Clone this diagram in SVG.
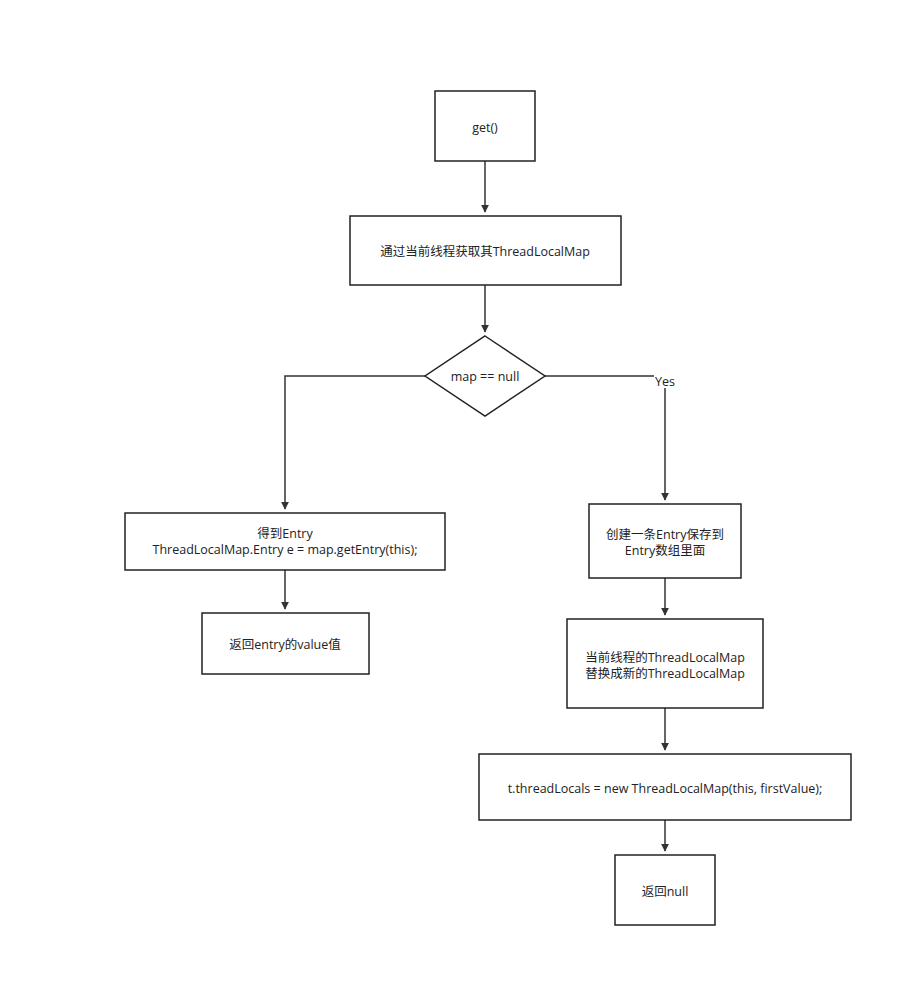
<svg xmlns="http://www.w3.org/2000/svg" width="913" height="987" viewBox="0 0 913 987">
<style>
.n{fill:#fff;stroke:#222;stroke-width:1.5}
.t{font-family:"Open Sans","Noto Sans CJK SC",sans-serif;font-size:12.5px;fill:#222;text-anchor:middle;dominant-baseline:central}
.c{fill:none;stroke:#333;stroke-width:1.5}
</style>
<defs><marker id="a" viewBox="0 0 10 10" refX="9" refY="5" markerWidth="8" markerHeight="8" markerUnits="userSpaceOnUse" orient="auto"><path d="M0,0L10,5L0,10z" fill="#333"/></marker></defs>
<rect width="913" height="987" fill="#fff"/>
<g id="connectors">
<path class="c" d="M485,161V212" marker-end="url(#a)"/>
<path class="c" d="M485,285V332" marker-end="url(#a)"/>
<path class="c" d="M425,376H285V509" marker-end="url(#a)"/>
<path class="c" d="M285,570V609" marker-end="url(#a)"/>
<path class="c" d="M545,376H665V500" marker-end="url(#a)"/>
<rect x="654" y="372" width="22" height="16" fill="#fff"/>
<text class="t" x="665" y="381">Yes</text>
<path class="c" d="M665,578V615" marker-end="url(#a)"/>
<path class="c" d="M665,708V750" marker-end="url(#a)"/>
<path class="c" d="M665,820V851" marker-end="url(#a)"/>
</g>
<g id="get"><rect class="n" x="435" y="91" width="100" height="70"/><text class="t" x="485" y="127">get()</text></g>
<g id="obtain"><rect class="n" x="350" y="216" width="271" height="69"/><text class="t" x="485" y="251">通过当前线程获取其ThreadLocalMap</text></g>
<g id="cond"><path class="n" d="M485,336L545,376L485,416L425,376z"/><text class="t" x="485" y="376">map == null</text></g>
<g id="getEntry"><rect class="n" x="125" y="513" width="320" height="57"/><text class="t" x="285" y="533">得到Entry</text><text class="t" x="285" y="549">ThreadLocalMap.Entry e = map.getEntry(this);</text></g>
<g id="retVal"><rect class="n" x="202" y="613" width="167" height="61"/><text class="t" x="285" y="644">返回entry的value值</text></g>
<g id="create"><rect class="n" x="589" y="504" width="152" height="74"/><text class="t" x="665" y="534">创建一条Entry保存到</text><text class="t" x="665" y="550">Entry数组里面</text></g>
<g id="replace"><rect class="n" x="567" y="619" width="196" height="89"/><text class="t" x="665" y="657">当前线程的ThreadLocalMap</text><text class="t" x="665" y="673">替换成新的ThreadLocalMap</text></g>
<g id="assign"><rect class="n" x="479" y="754" width="372" height="66"/><text class="t" x="665" y="788">t.threadLocals = new ThreadLocalMap(this, firstValue);</text></g>
<g id="retNull"><rect class="n" x="615" y="855" width="100" height="70"/><text class="t" x="665" y="891">返回null</text></g>
</svg>
